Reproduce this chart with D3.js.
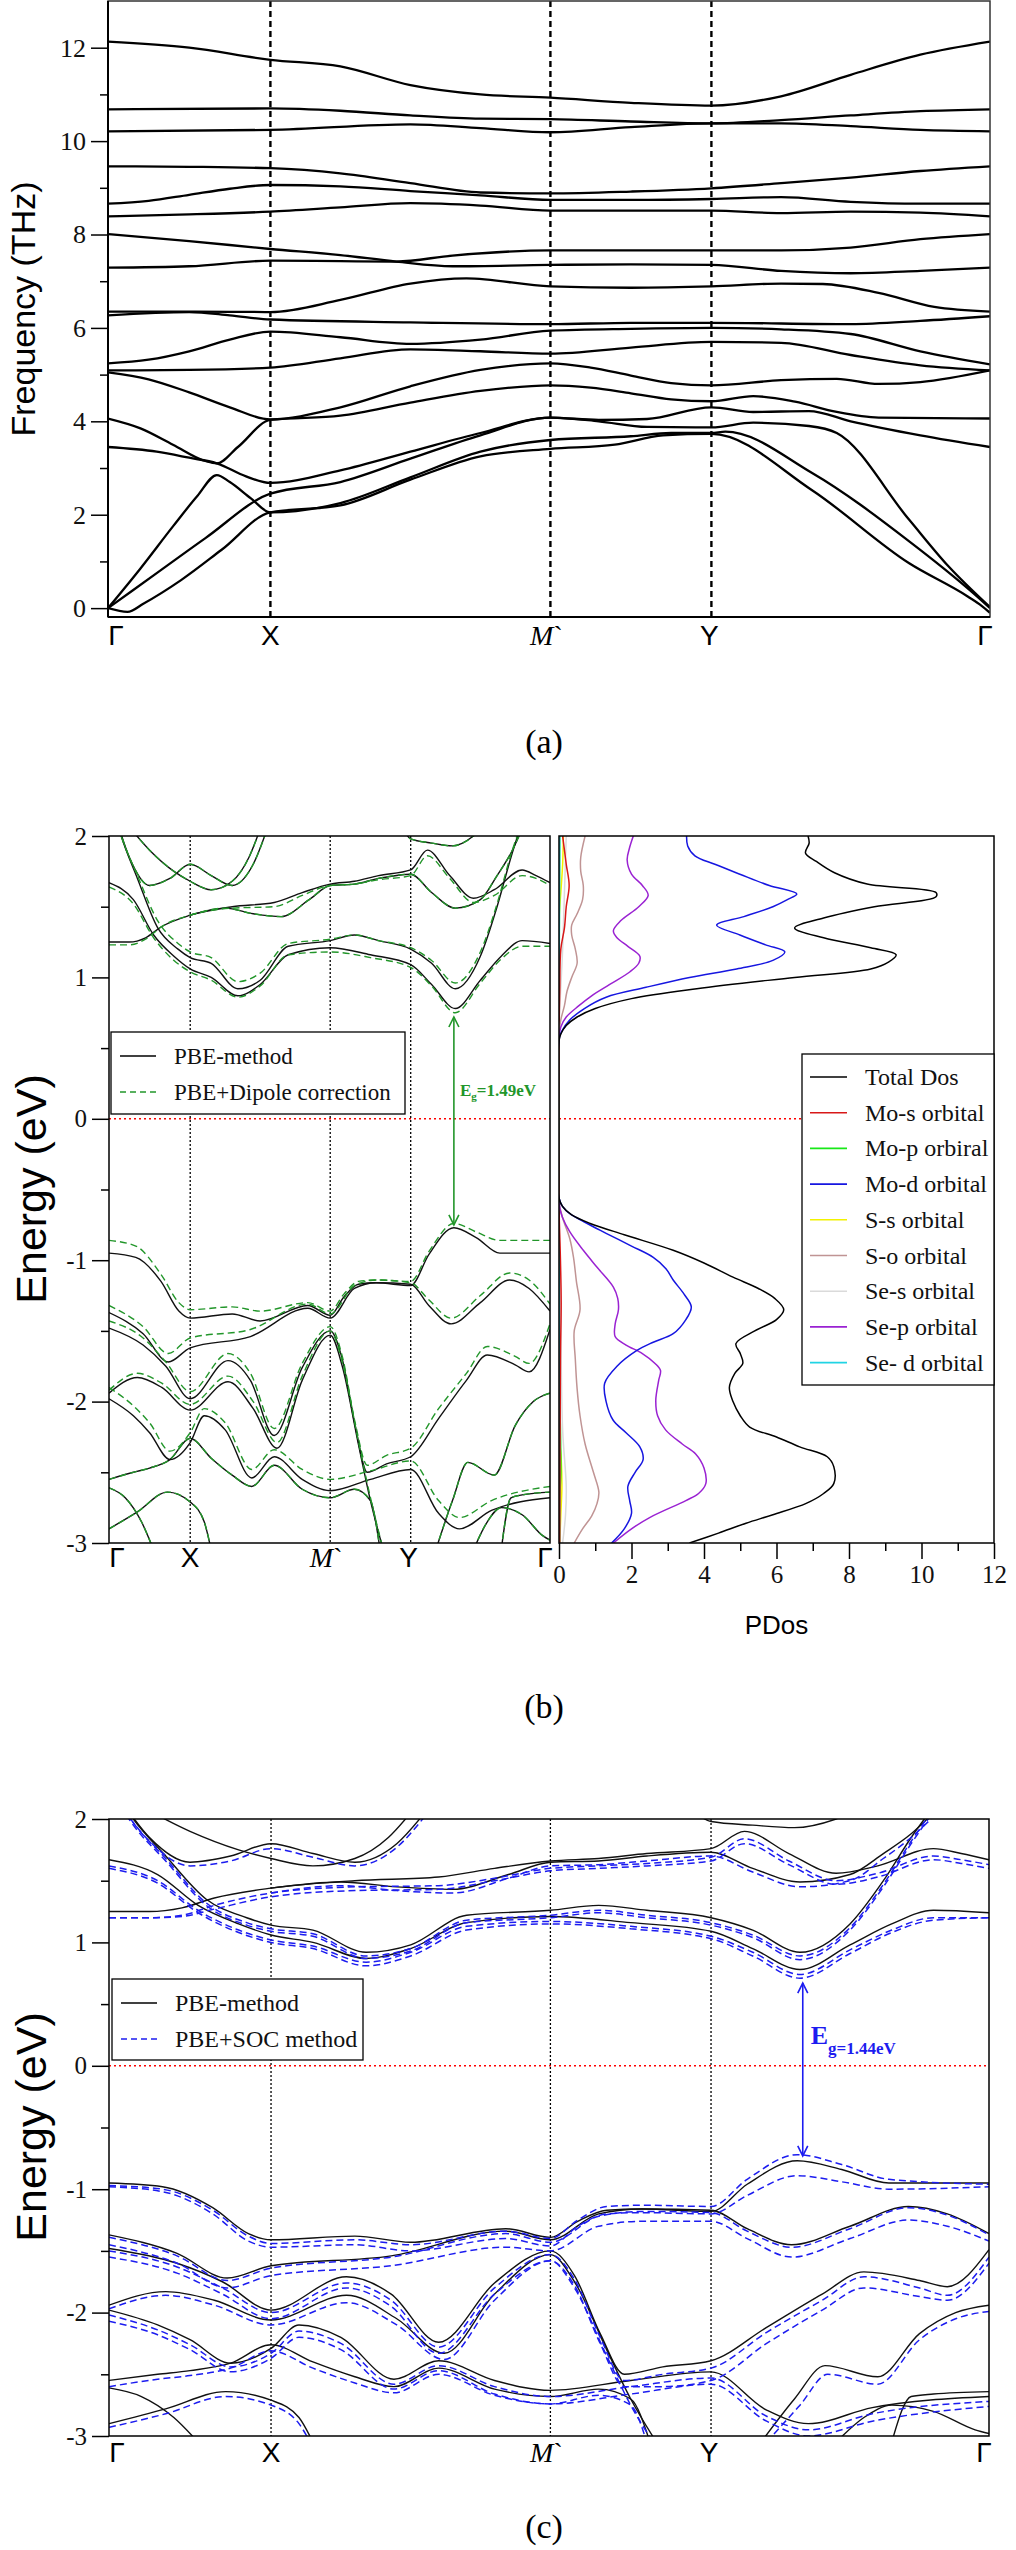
<!DOCTYPE html>
<html>
<head>
<meta charset="utf-8">
<script src="https://cdn.jsdelivr.net/npm/d3@7"></script>
<style>
  body { margin: 0; background: #fff; }
</style>
</head>
<body>
<div class="canvas"></div>
<script>
// ---------- shared k-path ----------
const kLabels = ['Γ', 'X', 'M', 'Y', 'Γ'];
const kSegments = [0.58, 1.0, 0.575, 0.995]; // Γ-X, X-M, M-Y, Y-Γ path lengths

// ---------- (a) phonon bands, [k, THz] ----------
const freqTicks = [0, 2, 4, 6, 8, 10, 12];
const freqMinor = [1, 3, 5, 7, 9, 11];
const phA1 = [[0,12.13],[0.5,12.0],[1,11.74],[1.25,11.6],[1.5,11.2],[1.75,11.0],[2,10.93],[2.5,10.82],[3,10.76],[3.25,10.96],[3.5,11.42],[3.75,11.85],[4,12.13]];
const phA2 = [[0,10.68],[1,10.7],[1.25,10.65],[1.5,10.55],[1.75,10.48],[2,10.47],[2.5,10.42],[3,10.38],[3.25,10.45],[3.5,10.55],[3.75,10.64],[4,10.68]];
const phA3 = [[0,10.21],[1,10.24],[1.5,10.36],[1.75,10.28],[2,10.19],[2.5,10.3],[3,10.38],[3.25,10.38],[3.5,10.32],[3.75,10.24],[4,10.21]];
const phA4 = [[0,9.46],[0.5,9.45],[1,9.42],[1.25,9.31],[1.5,9.1],[1.75,8.9],[2,8.88],[2.5,8.92],[3,8.99],[3.25,9.1],[3.5,9.22],[3.75,9.36],[4,9.46]];
const phA5 = [[0,8.66],[0.25,8.72],[0.5,8.85],[0.75,8.98],[1,9.06],[1.25,9.03],[1.5,8.93],[1.75,8.84],[2,8.74],[2.5,8.74],[3,8.76],[3.25,8.8],[3.5,8.7],[3.75,8.66],[4,8.66]];
const phA6 = [[0,8.39],[0.5,8.43],[1,8.49],[1.25,8.58],[1.5,8.67],[1.75,8.62],[2,8.51],[2.5,8.51],[3,8.51],[3.25,8.46],[3.5,8.49],[3.75,8.47],[4,8.39]];
const phA7 = [[0,8.01],[0.5,7.86],[1,7.69],[1.25,7.56],[1.45,7.42],[1.65,7.32],[2,7.35],[2.5,7.36],[3,7.35],[3.25,7.22],[3.5,7.17],[3.75,7.22],[4,7.29]];
const phA8 = [[0,7.29],[0.5,7.32],[1,7.44],[1.25,7.43],[1.45,7.42],[1.65,7.55],[2,7.66],[2.5,7.66],[3,7.66],[3.25,7.66],[3.5,7.72],[3.75,7.9],[4,8.01]];
const phA9 = [[0,6.35],[0.5,6.35],[1,6.34],[1.25,6.6],[1.5,6.95],[1.7,7.06],[2,6.89],[2.5,6.86],[3,6.89],[3.25,6.95],[3.4,6.94],[3.6,6.75],[3.8,6.45],[4,6.35]];
const phA10 = [[0,6.27],[0.5,6.34],[0.75,6.27],[1,6.18],[1.5,6.12],[2,6.08],[2.5,6.11],[3,6.11],[3.5,6.08],[3.75,6.15],[4,6.25]];
const phA11 = [[0,5.24],[0.25,5.32],[0.5,5.5],[0.75,5.75],[1,5.92],[1.25,5.8],[1.5,5.66],[1.75,5.75],[2,5.94],[2.5,5.98],[3,6.0],[3.25,5.97],[3.5,5.87],[3.75,5.5],[4,5.22]];
const phA12 = [[0,5.09],[0.5,5.1],[1,5.15],[1.25,5.35],[1.5,5.54],[1.75,5.5],[2,5.45],[2.5,5.58],[3,5.7],[3.25,5.68],[3.5,5.42],[3.75,5.2],[4,5.09]];
const phA13 = [[0,5.05],[0.25,4.9],[0.5,4.62],[0.75,4.3],[1,4.04],[1.25,4.3],[1.5,4.75],[1.75,5.1],[2,5.24],[2.25,5.15],[2.5,4.98],[2.75,4.82],[3,4.77],[3.25,4.88],[3.45,4.91],[3.6,4.8],[3.75,4.84],[4,5.09]];
const phA14 = [[0,4.06],[0.2,3.85],[0.4,3.5],[0.6,3.15],[0.67,3.1],[0.8,3.45],[1,4.03],[1.25,4.12],[1.5,4.4],[1.75,4.65],[2,4.77],[2.25,4.72],[2.5,4.6],[2.75,4.47],[3,4.43],[3.15,4.54],[3.3,4.42],[3.45,4.2],[3.6,4.08],[4,4.06]];
const phA15 = [[0,3.45],[0.3,3.35],[0.5,3.22],[0.67,3.1],[0.85,2.82],[1,2.68],[1.25,2.95],[1.5,3.35],[1.75,3.75],[2,4.08],[2.3,4.03],[2.6,4.05],[3,4.3],[3.15,4.2],[3.35,4.22],[3.5,4.0],[3.75,3.7],[4,3.45]];
const phA16 = [[0,0],[0.2,0.85],[0.4,1.75],[0.55,2.4],[0.67,2.85],[0.75,2.7],[0.88,2.35],[1,2.05],[1.25,2.25],[1.5,2.8],[1.75,3.35],[2,3.6],[2.5,3.68],[2.75,3.75],[3,3.75],[3.05,3.78],[3.36,2.9],[3.71,1.43],[3.94,0.32],[4,0]];
const phA17 = [[0,0],[0.3,0.75],[0.6,1.5],[1,2.45],[1.25,2.7],[1.5,3.2],[1.75,3.7],[2,4.08],[2.3,4.0],[2.6,3.88],[3,3.87],[3.15,3.97],[3.35,3.9],[3.45,3.75],[3.71,1.89],[3.85,0.9],[4,0.02]];
const phA18 = [[0,0],[0.12,-0.08],[0.22,0.1],[0.45,0.6],[0.7,1.25],[1,2.05],[1.25,2.2],[1.5,2.75],[1.75,3.25],[2,3.41],[2.4,3.5],[2.7,3.7],[3,3.73],[3.36,2.53],[3.71,0.96],[3.92,0.25],[3.97,0.05],[4,-0.1]];
const phononBands = [phA1,phA2,phA3,phA4,phA5,phA6,phA7,phA8,phA9,phA10,phA11,phA12,phA13,phA14,phA15,phA16,phA17,phA18];

// ---------- PBE electronic bands (same in b and c), [k, eV] ----------
const energyTicks = [-3, -2, -1, 0, 1, 2];
const energyMinor = [-2.5, -1.5, -0.5, 0.5, 1.5];
const pbeC1 = [[0,1.67],[0.3,1.55],[0.55,1.3],[0.8,1.15],[1,1.06],[1.15,1.0],[1.34,0.87],[1.5,0.95],[1.7,1.16],[2,1.21],[2.5,1.16],[3,1.09],[3.15,0.95],[3.32,0.78],[3.5,0.98],[3.65,1.15],[3.8,1.26],[4,1.24]];
const pbeC2 = [[0,2.3],[0.15,2.0],[0.35,1.7],[0.6,1.35],[0.85,1.2],[1,1.14],[1.15,1.1],[1.34,0.92],[1.5,0.98],[1.7,1.22],[2,1.26],[2.3,1.3],[2.6,1.26],[3,1.2],[3.15,1.1],[3.32,0.92],[3.5,1.15],[3.62,1.5],[3.72,1.85],[3.8,2.1]];
const pbeC3 = [[0,1.25],[0.25,1.25],[0.45,1.28],[0.65,1.36],[1,1.44],[1.3,1.5],[1.6,1.53],[1.8,1.6],[2,1.66],[2.3,1.68],[2.6,1.72],[3,1.76],[3.12,1.9],[3.28,1.72],[3.45,1.56],[3.6,1.62],[3.8,1.76],[3.9,1.72],[4,1.67]];
const pbeC4 = [[0.05,2.2],[0.25,1.85],[0.5,1.65],[0.75,1.7],[1,1.8],[1.15,1.72],[1.3,1.65],[1.45,1.8],[1.55,2.05]];
const pbeC5 = [[0.2,2.1],[0.5,1.9],[0.8,1.75],[1,1.68],[1.15,1.62],[1.3,1.68],[1.42,1.85],[1.5,2.05]];
const pbeC6 = [[1,1.44],[1.25,1.49],[1.45,1.45],[1.65,1.43],[1.85,1.55],[2,1.65],[2.3,1.66],[2.6,1.7],[3,1.73],[3.15,1.6],[3.32,1.49],[3.5,1.55],[3.62,1.72],[3.72,1.88],[3.8,2.05]];
const pbeC7 = [[2.9,2.05],[3,1.98],[3.15,1.95],[3.3,1.93],[3.45,2.0],[3.55,2.1]];
const pbeV1 = [[0,-0.95],[0.33,-0.98],[0.64,-1.15],[0.86,-1.36],[1,-1.41],[1.3,-1.38],[1.5,-1.43],[1.84,-1.32],[2,-1.39],[2.17,-1.26],[2.35,-1.17],[2.57,-1.16],[3,-1.18],[3.13,-0.96],[3.31,-0.77],[3.47,-0.84],[3.64,-0.95],[4,-0.95]];
const pbeV2 = [[0,-1.37],[0.42,-1.52],[0.73,-1.72],[1,-1.62],[1.43,-1.54],[1.84,-1.34],[2,-1.41],[2.3,-1.2],[2.57,-1.16],[3,-1.17],[3.13,-1.32],[3.29,-1.45],[3.5,-1.3],[3.71,-1.14],[3.85,-1.2],[4,-1.36]];
const pbeV3 = [[0,-1.48],[0.42,-1.6],[0.7,-1.75],[1,-1.98],[1.27,-1.71],[1.43,-1.85],[1.6,-2.24],[1.8,-1.76],[2,-1.5],[2.15,-1.7],[2.31,-2.17],[2.46,-2.5],[2.7,-2.44],[3,-2.39],[3.2,-2.12],[3.4,-1.85],[3.55,-1.67],[3.75,-1.74],[3.85,-1.79],[4,-1.49]];
const pbeV4 = [[0,-1.94],[0.35,-1.83],[0.65,-1.9],[1,-2.06],[1.27,-1.86],[1.45,-2.05],[1.62,-2.33],[1.8,-1.85],[2,-1.53],[2.15,-1.75],[2.35,-2.3],[2.5,-2.7],[2.66,-3.05]];
const pbeV5 = [[0,-1.98],[0.3,-2.1],[0.5,-2.22],[0.75,-2.41],[1,-2.29],[1.1,-2.1],[1.25,-2.2],[1.44,-2.54],[1.6,-2.39],[1.8,-2.55],[2,-2.63],[2.5,-2.55],[3,-2.48],[3.2,-2.79],[3.35,-2.9],[3.58,-2.77],[4,-2.68]];
const pbeV6 = [[0,-2.55],[0.3,-2.5],[0.5,-2.47],[0.75,-2.41],[1,-2.26],[1.15,-2.4],[1.3,-2.52],[1.44,-2.6],[1.6,-2.45],[1.8,-2.62],[2,-2.68],[2.3,-2.62],[2.5,-2.7],[2.62,-3.05]];
const pbeV7 = [[0,-2.9],[0.35,-2.78],[0.72,-2.64],[1,-2.71],[1.1,-2.85],[1.15,-3.05]];
const pbeV8 = [[0,-2.61],[0.2,-2.68],[0.4,-2.85],[0.55,-3.05]];
const pbeV9 = [[3.18,-3.05],[3.3,-2.7],[3.41,-2.43],[3.6,-2.52],[3.75,-2.17],[3.88,-2.0],[4,-1.94]];
const pbeV10 = [[3.65,-3.05],[3.72,-2.68],[3.8,-2.66],[4,-2.64]];
const pbeV11 = [[3.45,-3.05],[3.55,-2.85],[3.65,-2.75],[3.8,-2.8],[3.95,-2.95],[4,-2.98]];
const pbeBands = [pbeC1,pbeC2,pbeC3,pbeC4,pbeC5,pbeC6,pbeC7,pbeV1,pbeV2,pbeV3,pbeV4,pbeV5,pbeV6,pbeV7,pbeV8,pbeV9,pbeV10,pbeV11];

// ---------- (b) PBE + dipole correction ----------
const dipC1 = [[0,1.64],[0.3,1.52],[0.55,1.28],[0.8,1.12],[1,1.04],[1.15,0.98],[1.34,0.86],[1.5,0.94],[1.7,1.16],[2,1.18],[2.5,1.14],[3,1.07],[3.15,0.94],[3.32,0.75],[3.5,0.96],[3.65,1.13],[3.8,1.22],[4,1.22]];
const dipC2 = [[0,2.3],[0.15,2.0],[0.35,1.72],[0.6,1.4],[0.85,1.24],[1,1.18],[1.15,1.14],[1.34,0.97],[1.5,1.03],[1.7,1.24],[2,1.27],[2.3,1.3],[2.6,1.26],[3,1.21],[3.15,1.12],[3.32,0.96],[3.5,1.18],[3.62,1.52],[3.72,1.87],[3.8,2.1]];
const dipC3 = [[0,1.23],[0.25,1.23],[0.45,1.27],[0.65,1.36],[1,1.44],[1.3,1.49],[1.6,1.5],[1.8,1.58],[2,1.65],[2.3,1.66],[2.6,1.69],[3,1.72],[3.12,1.86],[3.28,1.7],[3.45,1.53],[3.6,1.58],[3.8,1.72],[3.9,1.7],[4,1.65]];
const dipV1 = [[0,-0.86],[0.33,-0.9],[0.64,-1.1],[0.86,-1.3],[1,-1.35],[1.3,-1.33],[1.5,-1.36],[1.84,-1.3],[2,-1.36],[2.17,-1.24],[2.35,-1.15],[2.57,-1.14],[3,-1.15],[3.13,-0.94],[3.31,-0.74],[3.47,-0.8],[3.64,-0.86],[4,-0.86]];
const dipV2 = [[0,-1.32],[0.42,-1.47],[0.73,-1.66],[1,-1.55],[1.43,-1.49],[1.84,-1.31],[2,-1.38],[2.3,-1.18],[2.57,-1.14],[3,-1.16],[3.13,-1.28],[3.29,-1.41],[3.5,-1.25],[3.71,-1.09],[3.85,-1.14],[4,-1.31]];
const dipV3 = [[0,-1.43],[0.42,-1.55],[0.7,-1.72],[1,-1.93],[1.27,-1.66],[1.43,-1.8],[1.6,-2.19],[1.8,-1.73],[2,-1.47],[2.15,-1.68],[2.31,-2.15],[2.46,-2.45],[2.7,-2.38],[3,-2.33],[3.2,-2.05],[3.4,-1.8],[3.55,-1.61],[3.75,-1.68],[3.85,-1.73],[4,-1.45]];
const dipV4 = [[0,-1.92],[0.35,-1.8],[0.65,-1.87],[1,-2.02],[1.27,-1.82],[1.45,-2.0],[1.62,-2.29],[1.8,-1.82],[2,-1.5],[2.15,-1.72],[2.35,-2.28],[2.5,-2.68],[2.66,-3.05]];
const dipV5 = [[0,-1.9],[0.3,-2.03],[0.5,-2.15],[0.75,-2.35],[1,-2.22],[1.1,-2.05],[1.25,-2.15],[1.44,-2.48],[1.6,-2.34],[1.8,-2.48],[2,-2.55],[2.5,-2.49],[3,-2.42],[3.2,-2.7],[3.35,-2.82],[3.58,-2.7],[4,-2.6]];
const dipoleBands = [dipC1,dipC2,dipC3,pbeC4,pbeC5,pbeC6,pbeC7,dipV1,dipV2,dipV3,dipV4,dipV5,pbeV6,pbeV7,pbeV8,pbeV9,pbeV10,pbeV11];
const gapB = { k: 3.31, top: 0.72, bottom: -0.75, label: '=1.49eV' };

// ---------- (b) projected DOS, [eV, states] ----------
const pdosMax = 12;
const pdosNames = ['Total Dos', 'Mo-s orbital', 'Mo-p orbiral', 'Mo-d orbital', 'S-s orbital', 'S-o orbital', 'Se-s orbital', 'Se-p orbital', 'Se- d orbital'];
const pdosColors = ['#000000', '#d81818', '#18e818', '#1616e0', '#f2f200', '#c09494', '#dadada', '#9a22d2', '#20d4e4'];
const dosTotal = [[-3.0,3.6],[-2.93,4.4],[-2.86,5.16],[-2.8,5.9],[-2.72,6.82],[-2.65,7.3],[-2.58,7.58],[-2.46,7.58],[-2.39,7.4],[-2.32,6.64],[-2.25,6.0],[-2.18,5.26],[-2.1,5.0],[-2.0,4.8],[-1.9,4.7],[-1.8,4.85],[-1.73,5.07],[-1.66,5.0],[-1.59,4.88],[-1.5,5.4],[-1.42,6.0],[-1.35,6.2],[-1.27,5.95],[-1.2,5.5],[-1.12,4.8],[-1.02,4.0],[-0.93,3.15],[-0.82,1.8],[-0.74,0.86],[-0.68,0.35],[-0.62,0.1],[-0.56,0],[0.55,0],[0.6,0.05],[0.66,0.2],[0.72,0.5],[0.78,1.0],[0.85,2.0],[0.92,3.8],[1.0,6.5],[1.06,8.6],[1.11,9.1],[1.16,9.3],[1.21,8.6],[1.28,7.3],[1.35,6.5],[1.42,7.3],[1.5,8.7],[1.57,10.4],[1.6,10.4],[1.66,8.5],[1.74,7.6],[1.82,7.1],[1.88,6.8],[1.95,6.9],[2.0,6.87]];
const dosMoS = [[-3.0,0.02],[-1.7,0.04],[-1.3,0.06],[-1.0,0.04],[-0.6,0],[0.6,0],[0.9,0.02],[1.2,0.05],[1.35,0.15],[1.5,0.2],[1.65,0.28],[1.8,0.2],[2.0,0.1]];
const dosMoP = [[-3.0,0.01],[-2.7,0.02],[-2.5,0.05],[-2.2,0.04],[-1.9,0.01],[-0.6,0],[0.6,0],[2.0,0.02]];
const dosMoD = [[-3.0,1.45],[-2.9,1.8],[-2.79,2.0],[-2.7,1.95],[-2.6,1.9],[-2.5,2.1],[-2.41,2.32],[-2.32,2.23],[-2.22,1.85],[-2.13,1.49],[-2.0,1.3],[-1.87,1.26],[-1.75,1.6],[-1.64,2.14],[-1.58,2.6],[-1.52,3.15],[-1.42,3.5],[-1.33,3.65],[-1.24,3.45],[-1.14,3.15],[-1.06,2.95],[-0.98,2.6],[-0.9,2.0],[-0.81,1.3],[-0.73,0.7],[-0.65,0.2],[-0.56,0],[0.56,0],[0.62,0.08],[0.7,0.3],[0.78,0.7],[0.86,1.3],[0.93,2.4],[1.0,3.6],[1.06,4.9],[1.12,5.9],[1.18,6.23],[1.23,5.7],[1.3,4.99],[1.37,4.35],[1.43,5.1],[1.5,5.9],[1.55,6.3],[1.59,6.56],[1.65,5.8],[1.73,4.99],[1.8,4.3],[1.86,3.75],[1.93,3.55],[2.0,3.52]];
const dosSS = [[-3.0,0.02],[-2.8,0.05],[-2.6,0.08],[-2.4,0.06],[-2.2,0],[1.4,0],[1.6,0.05],[1.8,0.1],[2.0,0.12]];
const dosSO = [[-3.0,0.42],[-2.9,0.65],[-2.81,0.9],[-2.72,1.05],[-2.64,1.1],[-2.5,0.95],[-2.3,0.72],[-2.1,0.58],[-1.91,0.5],[-1.7,0.45],[-1.5,0.42],[-1.35,0.58],[-1.15,0.48],[-0.98,0.4],[-0.85,0.3],[-0.7,0.1],[-0.58,0],[0.6,0],[0.7,0.05],[0.8,0.15],[0.9,0.22],[1.0,0.35],[1.1,0.5],[1.2,0.45],[1.3,0.35],[1.37,0.35],[1.45,0.5],[1.55,0.65],[1.65,0.67],[1.75,0.6],[1.85,0.6],[2.0,0.72]];
const dosSeS = [[-3.0,0.1],[-2.8,0.18],[-2.6,0.2],[-2.2,0.1],[-1.5,0.05],[-0.6,0],[0.6,0],[1.2,0.1],[1.6,0.15],[2.0,0.2]];
const dosSeP = [[-3.0,1.5],[-2.9,2.0],[-2.82,2.5],[-2.7,3.5],[-2.65,3.85],[-2.58,4.05],[-2.47,4.0],[-2.37,3.77],[-2.3,3.4],[-2.2,2.94],[-2.1,2.72],[-1.99,2.67],[-1.85,2.75],[-1.78,2.8],[-1.73,2.65],[-1.66,2.3],[-1.6,1.85],[-1.54,1.55],[-1.45,1.55],[-1.35,1.64],[-1.27,1.62],[-1.19,1.5],[-1.05,1.05],[-0.93,0.67],[-0.8,0.3],[-0.7,0.1],[-0.6,0],[0.58,0],[0.65,0.05],[0.72,0.2],[0.8,0.55],[0.87,0.9],[0.95,1.4],[1.04,1.96],[1.1,2.2],[1.15,2.23],[1.22,1.9],[1.28,1.6],[1.33,1.5],[1.4,1.7],[1.5,2.2],[1.58,2.46],[1.65,2.3],[1.73,2.0],[1.83,1.88],[1.92,1.95],[2.0,2.05]];
const dosSeD = [[-3.0,0.02],[-2.0,0.02],[-0.6,0],[0.6,0],[2.0,0.02]];
const pdosSeries = [dosTotal, dosMoS, dosMoP, dosMoD, dosSS, dosSO, dosSeS, dosSeP, dosSeD];

// ---------- (c) PBE + SOC ----------
const socC1a = [[0,1.62],[0.3,1.5],[0.55,1.26],[0.8,1.1],[1,1.02],[1.15,0.97],[1.34,0.84],[1.5,0.92],[1.7,1.13],[2,1.17],[2.5,1.13],[3,1.05],[3.15,0.92],[3.32,0.74],[3.5,0.94],[3.65,1.1],[3.8,1.2],[4,1.2]];
const socC1b = [[0,1.6],[0.3,1.48],[0.55,1.24],[0.8,1.08],[1,1.0],[1.15,0.95],[1.34,0.81],[1.5,0.89],[1.7,1.1],[2,1.15],[2.5,1.11],[3,1.03],[3.15,0.89],[3.32,0.71],[3.5,0.91],[3.65,1.08],[3.8,1.18],[4,1.2]];
const socC2a = [[0,2.28],[0.15,1.97],[0.35,1.68],[0.6,1.32],[0.85,1.16],[1,1.11],[1.15,1.07],[1.34,0.89],[1.5,0.95],[1.7,1.18],[2,1.22],[2.3,1.26],[2.6,1.22],[3,1.16],[3.15,1.06],[3.32,0.89],[3.5,1.12],[3.62,1.47],[3.72,1.82],[3.8,2.08]];
const socC2b = [[0,2.26],[0.15,1.95],[0.35,1.66],[0.6,1.3],[0.85,1.14],[1,1.09],[1.15,1.05],[1.34,0.87],[1.5,0.93],[1.7,1.16],[2,1.2],[2.3,1.24],[2.6,1.2],[3,1.14],[3.15,1.04],[3.32,0.86],[3.5,1.1],[3.62,1.45],[3.72,1.8],[3.8,2.06]];
const socC3a = [[0,1.2],[0.25,1.2],[0.45,1.22],[0.65,1.3],[1,1.4],[1.3,1.45],[1.6,1.46],[1.8,1.52],[2,1.6],[2.3,1.62],[2.6,1.64],[3,1.69],[3.12,1.84],[3.28,1.66],[3.45,1.5],[3.6,1.56],[3.8,1.7],[3.9,1.67],[4,1.63]];
const socC3b = [[0,1.2],[0.25,1.2],[0.45,1.21],[0.65,1.27],[1,1.37],[1.3,1.42],[1.6,1.43],[1.8,1.5],[2,1.58],[2.3,1.6],[2.6,1.62],[3,1.66],[3.12,1.8],[3.28,1.63],[3.45,1.47],[3.6,1.53],[3.8,1.67],[3.9,1.64],[4,1.6]];
const socC4 = [[0.05,2.15],[0.25,1.82],[0.5,1.62],[0.75,1.66],[1,1.76],[1.15,1.69],[1.3,1.62],[1.45,1.77],[1.55,2.02]];
const socC6 = [[1,1.4],[1.25,1.46],[1.45,1.42],[1.65,1.4],[1.85,1.52],[2,1.62],[2.3,1.63],[2.6,1.66],[3,1.7],[3.15,1.57],[3.32,1.45],[3.5,1.5],[3.62,1.68],[3.72,1.85],[3.8,2.02]];
const socV1a = [[0,-0.97],[0.33,-1.0],[0.64,-1.17],[0.86,-1.38],[1,-1.44],[1.3,-1.41],[1.5,-1.45],[1.84,-1.34],[2,-1.4],[2.17,-1.25],[2.35,-1.14],[2.57,-1.13],[3,-1.14],[3.13,-0.92],[3.31,-0.72],[3.47,-0.8],[3.64,-0.92],[4,-0.96]];
const socV1b = [[0,-0.98],[0.33,-1.02],[0.64,-1.2],[0.86,-1.42],[1,-1.47],[1.3,-1.45],[1.5,-1.5],[1.84,-1.4],[2,-1.46],[2.17,-1.3],[2.35,-1.2],[2.57,-1.19],[3,-1.2],[3.13,-1.05],[3.31,-0.89],[3.47,-0.94],[3.64,-1.0],[4,-0.98]];
const socV2a = [[0,-1.39],[0.42,-1.54],[0.73,-1.74],[1,-1.64],[1.43,-1.55],[1.84,-1.36],[2,-1.43],[2.3,-1.22],[2.57,-1.18],[3,-1.19],[3.13,-1.34],[3.29,-1.47],[3.5,-1.32],[3.71,-1.15],[3.85,-1.21],[4,-1.37]];
const socV2b = [[0,-1.45],[0.42,-1.6],[0.73,-1.8],[1,-1.7],[1.43,-1.62],[1.84,-1.47],[2,-1.5],[2.3,-1.3],[2.57,-1.26],[3,-1.26],[3.13,-1.4],[3.29,-1.55],[3.5,-1.4],[3.71,-1.25],[3.85,-1.3],[4,-1.42]];
const socV3a = [[0,-1.5],[0.42,-1.63],[0.7,-1.8],[1,-2.0],[1.27,-1.76],[1.43,-1.9],[1.6,-2.28],[1.8,-1.8],[2,-1.53],[2.15,-1.73],[2.31,-2.2],[2.46,-2.55],[2.7,-2.5],[3,-2.45],[3.2,-2.16],[3.4,-1.9],[3.55,-1.71],[3.75,-1.8],[3.85,-1.86],[4,-1.55]];
const socV3b = [[0,-1.55],[0.42,-1.68],[0.7,-1.85],[1,-2.05],[1.27,-1.8],[1.43,-1.95],[1.6,-2.33],[1.8,-1.85],[2,-1.58],[2.15,-1.78],[2.31,-2.25],[2.46,-2.6],[2.7,-2.6],[3,-2.55],[3.2,-2.25],[3.4,-1.98],[3.55,-1.8],[3.75,-1.87],[3.85,-1.9],[4,-1.6]];
const socV4 = [[0,-1.97],[0.35,-1.86],[0.65,-1.94],[1,-2.1],[1.27,-1.92],[1.45,-2.1],[1.62,-2.38],[1.8,-1.9],[2,-1.58],[2.15,-1.8],[2.35,-2.35],[2.5,-2.75],[2.64,-3.05]];
const socV5a = [[0,-2.02],[0.3,-2.14],[0.5,-2.26],[0.75,-2.44],[1,-2.33],[1.1,-2.15],[1.25,-2.25],[1.44,-2.58],[1.6,-2.43],[1.8,-2.6],[2,-2.68],[2.5,-2.6],[3,-2.53],[3.2,-2.84],[3.35,-2.95],[3.58,-2.82],[4,-2.72]];
const socV5b = [[0,-2.07],[0.3,-2.18],[0.5,-2.3],[0.75,-2.48],[1,-2.37],[1.1,-2.2],[1.25,-2.3],[1.44,-2.62],[1.6,-2.47],[1.8,-2.66],[2,-2.74],[2.5,-2.66],[3,-2.58],[3.2,-2.88],[3.35,-3.0],[3.58,-2.88],[4,-2.76]];
const socV6 = [[0,-2.6],[0.3,-2.54],[0.5,-2.51],[0.75,-2.45],[1,-2.31],[1.15,-2.45],[1.3,-2.57],[1.44,-2.65],[1.6,-2.5],[1.8,-2.67],[2,-2.74],[2.3,-2.67],[2.5,-2.75],[2.6,-3.05]];
const socV7 = [[0,-2.93],[0.35,-2.82],[0.72,-2.68],[1,-2.75],[1.1,-2.9],[1.14,-3.05]];
const socV9 = [[3.2,-3.05],[3.32,-2.75],[3.42,-2.5],[3.6,-2.58],[3.75,-2.22],[3.88,-2.05],[4,-1.99]];
const socBands = [socC1a,socC1b,socC2a,socC2b,socC3a,socC3b,socC4,socC6,socV1a,socV1b,socV2a,socV2b,socV3a,socV3b,socV4,socV5a,socV5b,socV6,socV7,socV9];
const gapC = { k: 3.33, top: 0.67, bottom: -0.73, label: 'g=1.44eV' };

// ---------- drawing helpers ----------
const serif = "'Liberation Serif', 'Times New Roman', serif";
const sans = "'Liberation Sans', Arial, sans-serif";

const svg = d3.select('.canvas')
    .append('svg')
    .attr('width', 1016)
    .attr('height', 2550)
    .style('background', '#fff');

// piecewise k scale following the Brillouin-zone path lengths
function kScale(x0, x1) {
    const cum = [0];
    kSegments.forEach(s => cum.push(cum[cum.length - 1] + s));
    const total = cum[cum.length - 1];
    return d3.scaleLinear().domain([0, 1, 2, 3, 4]).range(cum.map(c => x0 + (x1 - x0) * c / total));
}

function clipRect(id, x0, y0, x1, y1) {
    svg.append('clipPath').attr('id', id)
        .append('rect').attr('x', x0).attr('y', y0).attr('width', x1 - x0).attr('height', y1 - y0);
}

function drawBands(g, bands, x, y, color, width, dash) {
    const line = d3.line().x(d => x(d[0])).y(d => y(d[1])).curve(d3.curveMonotoneX);
    g.selectAll(null).data(bands).enter()
        .append('path')
        .attr('d', line)
        .attr('fill', 'none')
        .attr('stroke', color)
        .attr('stroke-width', width)
        .attr('stroke-dasharray', dash || null)
        .attr('stroke-linejoin', 'round');
}

function yAxis(x0, y, major, minor, fontSize) {
    const gMaj = svg.append('g').attr('transform', `translate(${x0},0)`)
        .call(d3.axisLeft(y).tickValues(major).tickSize(17).tickPadding(5).tickFormat(d => String(d)));
    const gMin = svg.append('g').attr('transform', `translate(${x0},0)`)
        .call(d3.axisLeft(y).tickValues(minor).tickSize(8).tickFormat(''));
    [gMaj, gMin].forEach(g => {
        g.select('.domain').remove();
        g.selectAll('line').attr('stroke', '#000').attr('stroke-width', 1.5);
    });
    gMaj.selectAll('text').attr('font-family', serif).attr('font-size', fontSize).attr('fill', '#111');
}

function kLabelRow(x, baseline, size) {
    const shift = [8, 0, -4, -2, -5];
    kLabels.forEach((lab, i) => {
        const t = svg.append('text')
            .attr('x', x(i) + shift[i])
            .attr('y', baseline)
            .attr('text-anchor', 'middle')
            .attr('font-size', size)
            .attr('fill', '#000');
        if (lab === 'M') {
            t.append('tspan').attr('font-family', serif).attr('font-style', 'italic').text('M');
            t.append('tspan').attr('font-family', serif).text('`');
        } else {
            t.attr('font-family', sans).text(lab);
        }
    });
}

function yTitle(text, cx, cy, size) {
    svg.append('text')
        .attr('transform', `translate(${cx},${cy}) rotate(-90)`)
        .attr('text-anchor', 'middle')
        .attr('font-family', sans)
        .attr('font-size', size)
        .text(text);
}

function caption(text, cx, baseline) {
    svg.append('text').attr('x', cx).attr('y', baseline)
        .attr('text-anchor', 'middle').attr('font-family', serif).attr('font-size', 34).text(text);
}

function vLines(x, y0, y1, dash, width) {
    svg.append('g').selectAll('line').data([1, 2, 3]).enter().append('line')
        .attr('x1', d => x(d)).attr('x2', d => x(d))
        .attr('y1', y0).attr('y2', y1)
        .attr('stroke', '#000').attr('stroke-width', width).attr('stroke-dasharray', dash);
}

function gapArrow(x, y, gap, color) {
    const xa = x(gap.k), yt = y(gap.top), yb = y(gap.bottom);
    const g = svg.append('g').attr('stroke', color).attr('fill', 'none').attr('stroke-width', 1.6);
    g.append('line').attr('x1', xa).attr('x2', xa).attr('y1', yt).attr('y2', yb);
    g.append('path').attr('d', `M${xa - 5},${yt + 10}L${xa},${yt}L${xa + 5},${yt + 10}`);
    g.append('path').attr('d', `M${xa - 5},${yb - 10}L${xa},${yb}L${xa + 5},${yb - 10}`);
}

function bandLegend(x0, y0, w, h, rows, fontSize) {
    svg.append('rect').attr('x', x0).attr('y', y0).attr('width', w).attr('height', h)
        .attr('fill', '#fff').attr('stroke', '#000').attr('stroke-width', 1.3);
    rows.forEach((r, i) => {
        const yy = y0 + 24 + i * 36;
        svg.append('line').attr('x1', x0 + 9).attr('x2', x0 + 45).attr('y1', yy).attr('y2', yy)
            .attr('stroke', r.color).attr('stroke-width', 1.5).attr('stroke-dasharray', r.dash || null);
        svg.append('text').attr('x', x0 + 63).attr('y', yy + 8)
            .attr('font-family', serif).attr('font-size', fontSize).attr('fill', '#111').text(r.name);
    });
}

// ================= (a) phonon dispersion =================
const A = { left: 108, right: 990, top: 1, bottom: 617 };
const xA = kScale(A.left, A.right);
const yA = d3.scaleLinear().domain([-0.19, 13.0]).range([A.bottom, A.top]);
clipRect('clipA', A.left, A.top, A.right, A.bottom);

vLines(xA, A.top, A.bottom, '6,4', 2.4);
drawBands(svg.append('g').attr('clip-path', 'url(#clipA)'), phononBands, xA, yA, '#000', 2.3);
svg.append('rect').attr('x', A.left).attr('y', A.top).attr('width', A.right - A.left).attr('height', A.bottom - A.top)
    .attr('fill', 'none').attr('stroke', '#333').attr('stroke-width', 1.5);
svg.append('line').attr('x1', A.left).attr('x2', A.left).attr('y1', A.top).attr('y2', A.bottom).attr('stroke', '#000').attr('stroke-width', 2);
svg.append('line').attr('x1', A.left).attr('x2', A.right).attr('y1', A.bottom).attr('y2', A.bottom).attr('stroke', '#000').attr('stroke-width', 2);
yAxis(A.left, yA, freqTicks, freqMinor, 26);
kLabelRow(xA, 645, 28);
yTitle('Frequency (THz)', 35, 309, 34);
caption('(a)', 544, 753);

// ================= (b) bands with dipole correction + PDOS =================
const B = { left: 109, right: 550, top: 836, bottom: 1543 };
const xB = kScale(B.left, B.right);
const yB = d3.scaleLinear().domain([-3, 2]).range([B.bottom, B.top]);
clipRect('clipB', B.left, B.top, B.right, B.bottom);

vLines(xB, B.top, B.bottom, '2,2', 1.3);
svg.append('line').attr('x1', B.left).attr('x2', B.right).attr('y1', yB(0)).attr('y2', yB(0))
    .attr('stroke', '#ff0000').attr('stroke-width', 1.5).attr('stroke-dasharray', '2,3');
const gB = svg.append('g').attr('clip-path', 'url(#clipB)');
drawBands(gB, pbeBands, xB, yB, '#111', 1.4);
drawBands(gB, dipoleBands, xB, yB, '#22962a', 1.4, '7,4');
svg.append('rect').attr('x', B.left).attr('y', B.top).attr('width', B.right - B.left).attr('height', B.bottom - B.top)
    .attr('fill', 'none').attr('stroke', '#000').attr('stroke-width', 1.5);
yAxis(B.left, yB, energyTicks, energyMinor, 25);
kLabelRow(xB, 1567, 28);
yTitle('Energy (eV)', 46, 1189, 43);

bandLegend(111, 1032, 294, 82, [
    { name: 'PBE-method', color: '#000' },
    { name: 'PBE+Dipole correction', color: '#22962a', dash: '6,4' }
], 23);
gapArrow(xB, yB, gapB, '#22962a');
const egB = svg.append('text').attr('x', xB(gapB.k) + 6).attr('y', 1096)
    .attr('font-family', serif).attr('font-weight', 'bold').attr('fill', '#22962a').attr('font-size', 17);
egB.append('tspan').text('E');
egB.append('tspan').attr('font-size', 11).attr('dy', 4).text('g');
egB.append('tspan').attr('dy', -4).text(gapB.label);

// PDOS panel
const P = { left: 559, right: 994, top: 836, bottom: 1543 };
const xP = d3.scaleLinear().domain([0, pdosMax]).range([P.left, P.right]);
clipRect('clipP', P.left, P.top, P.right, P.bottom);
svg.append('line').attr('x1', P.left).attr('x2', P.right).attr('y1', yB(0)).attr('y2', yB(0))
    .attr('stroke', '#ff0000').attr('stroke-width', 1.5).attr('stroke-dasharray', '2,3');
const dosLine = d3.line().x(d => xP(d[1])).y(d => yB(d[0])).curve(d3.curveCatmullRom.alpha(0.5));
const gP = svg.append('g').attr('clip-path', 'url(#clipP)');
const order = [6, 4, 2, 8, 1, 5, 7, 3, 0];
gP.selectAll('path').data(order).enter().append('path')
    .attr('d', i => dosLine(pdosSeries[i]))
    .attr('fill', 'none')
    .attr('stroke', i => pdosColors[i])
    .attr('stroke-width', 1.5);
svg.append('rect').attr('x', P.left).attr('y', P.top).attr('width', P.right - P.left).attr('height', P.bottom - P.top)
    .attr('fill', 'none').attr('stroke', '#000').attr('stroke-width', 1.5);
const gPx = svg.append('g').attr('transform', `translate(0,${P.bottom})`)
    .call(d3.axisBottom(xP).tickValues(d3.range(0, 13, 2)).tickSize(16).tickPadding(6));
const gPm = svg.append('g').attr('transform', `translate(0,${P.bottom})`)
    .call(d3.axisBottom(xP).tickValues(d3.range(1, 12, 2)).tickSize(8).tickFormat(''));
[gPx, gPm].forEach(g => {
    g.select('.domain').remove();
    g.selectAll('line').attr('stroke', '#000').attr('stroke-width', 1.5);
});
gPx.selectAll('text').attr('font-family', serif).attr('font-size', 25).attr('fill', '#111');
svg.append('text').attr('x', (P.left + P.right) / 2).attr('y', 1634).attr('text-anchor', 'middle')
    .attr('font-family', sans).attr('font-size', 26).text('PDos');

// PDOS legend
svg.append('rect').attr('x', 802).attr('y', 1054).attr('width', 192).attr('height', 331)
    .attr('fill', '#fff').attr('stroke', '#000').attr('stroke-width', 1.3);
pdosNames.forEach((name, i) => {
    const yy = 1077 + i * 35.7;
    svg.append('line').attr('x1', 810).attr('x2', 847).attr('y1', yy).attr('y2', yy)
        .attr('stroke', pdosColors[i]).attr('stroke-width', 1.6);
    svg.append('text').attr('x', 865).attr('y', yy + 8).attr('font-family', serif)
        .attr('font-size', 24).attr('fill', '#111').text(name);
});
caption('(b)', 544, 1718);

// ================= (c) bands with spin-orbit coupling =================
const C = { left: 109, right: 989, top: 1819, bottom: 2436 };
const xC = kScale(C.left, C.right);
const yC = d3.scaleLinear().domain([-3, 2]).range([C.bottom, C.top]);
clipRect('clipC', C.left, C.top, C.right, C.bottom);

vLines(xC, C.top, C.bottom, '2,2', 1.3);
svg.append('line').attr('x1', C.left).attr('x2', C.right).attr('y1', yC(0)).attr('y2', yC(0))
    .attr('stroke', '#ff0000').attr('stroke-width', 1.5).attr('stroke-dasharray', '2,3');
const gC = svg.append('g').attr('clip-path', 'url(#clipC)');
drawBands(gC, pbeBands, xC, yC, '#111', 1.4);
drawBands(gC, socBands, xC, yC, '#1c1cf0', 1.5, '7,4');
svg.append('rect').attr('x', C.left).attr('y', C.top).attr('width', C.right - C.left).attr('height', C.bottom - C.top)
    .attr('fill', 'none').attr('stroke', '#000').attr('stroke-width', 1.5);
yAxis(C.left, yC, energyTicks, energyMinor, 25);
kLabelRow(xC, 2462, 28);
yTitle('Energy (eV)', 46, 2127, 43);

bandLegend(112, 1979, 251, 81, [
    { name: 'PBE-method', color: '#000' },
    { name: 'PBE+SOC method', color: '#1c1cf0', dash: '6,4' }
], 24);
gapArrow(xC, yC, gapC, '#1c1cf0');
const egC = svg.append('text').attr('x', xC(gapC.k) + 8).attr('y', 2044)
    .attr('font-family', serif).attr('font-weight', 'bold').attr('fill', '#1c1cf0').attr('font-size', 26);
egC.append('tspan').text('E');
egC.append('tspan').attr('font-size', 17).attr('dy', 10).text(gapC.label);
caption('(c)', 544, 2538);
</script>
</body>
</html>
